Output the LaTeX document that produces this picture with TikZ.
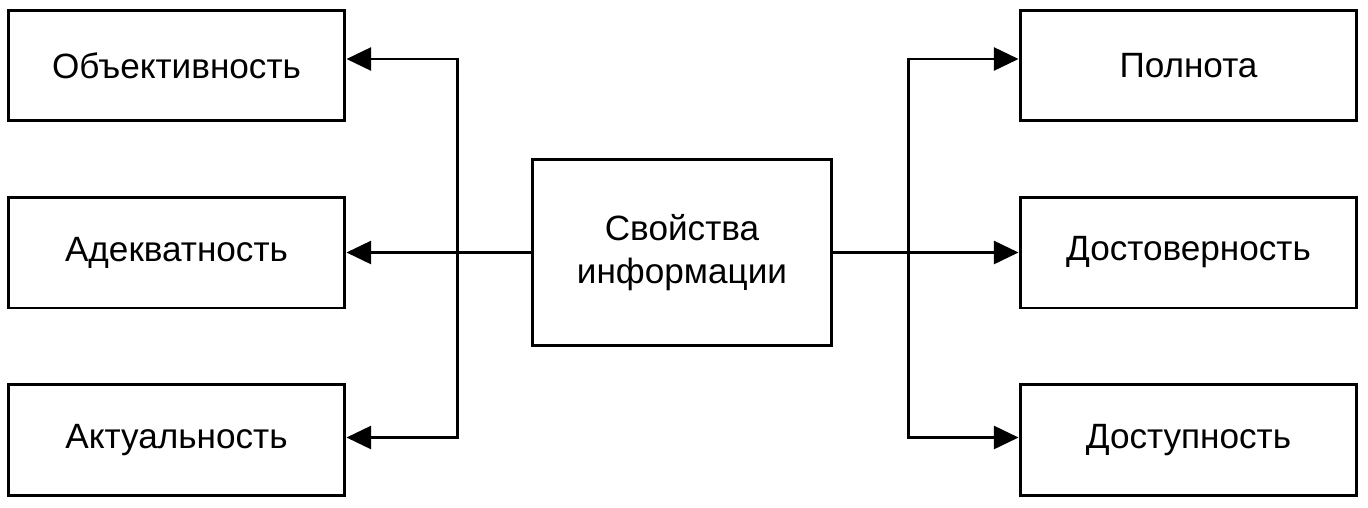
\documentclass[tikz,border=0pt]{standalone}
\usepackage{fontspec}
\setmainfont{Liberation Sans}
\usetikzlibrary{%
  arrows.meta,%
  calc%
}
\tikzset{>={Triangle[length=14pt,width=13pt]},%
  prop/.style={draw,line width=1.7pt,minimum width=6.74cm,minimum height=2.22cm,
    font=\fontsize{20}{24.5}\selectfont},
  main/.style={prop,minimum width=6cm,minimum height=3.74cm,align=center},
  link/.style={line width=1.7pt}}

\begin{document}
\begin{tikzpicture}[x=0.02cm,y=-0.02cm]
      \useasboundingbox (0,0) rectangle (1368,507);
      \node[main] (svo) at (682,252.5) {Свойства\\информации};
      \node[prop] (obj) at (176.5,65.5) {Объективность};
      \node[prop] (ade) at (176.5,252.5) {Адекватность};
      \node[prop] (akt) at (176.5,440) {Актуальность};
      \node[prop] (pol) at (1188.5,65.5) {Полнота};
      \node[prop] (dos) at (1188.5,252.5) {Достоверность};
      \node[prop] (dst) at (1188.5,440) {Доступность};
      \coordinate (jl) at (457,252.5);
      \coordinate (jr) at (908,252.5);
      \draw[link] (svo.west) -- (jl);
      \draw[link] (svo.east) -- (jr);
      \foreach \n/\d in {obj/-6.5,ade/0,akt/-2.5}
        \draw[link,->] (jl) |- ($(\n.east)+(0,\d)$);
      \foreach \n/\d in {pol/-6.5,dos/0,dst/-2.5}
        \draw[link,->] (jr) |- ($(\n.west)+(0,\d)$);
    \end{tikzpicture}
\end{document}
